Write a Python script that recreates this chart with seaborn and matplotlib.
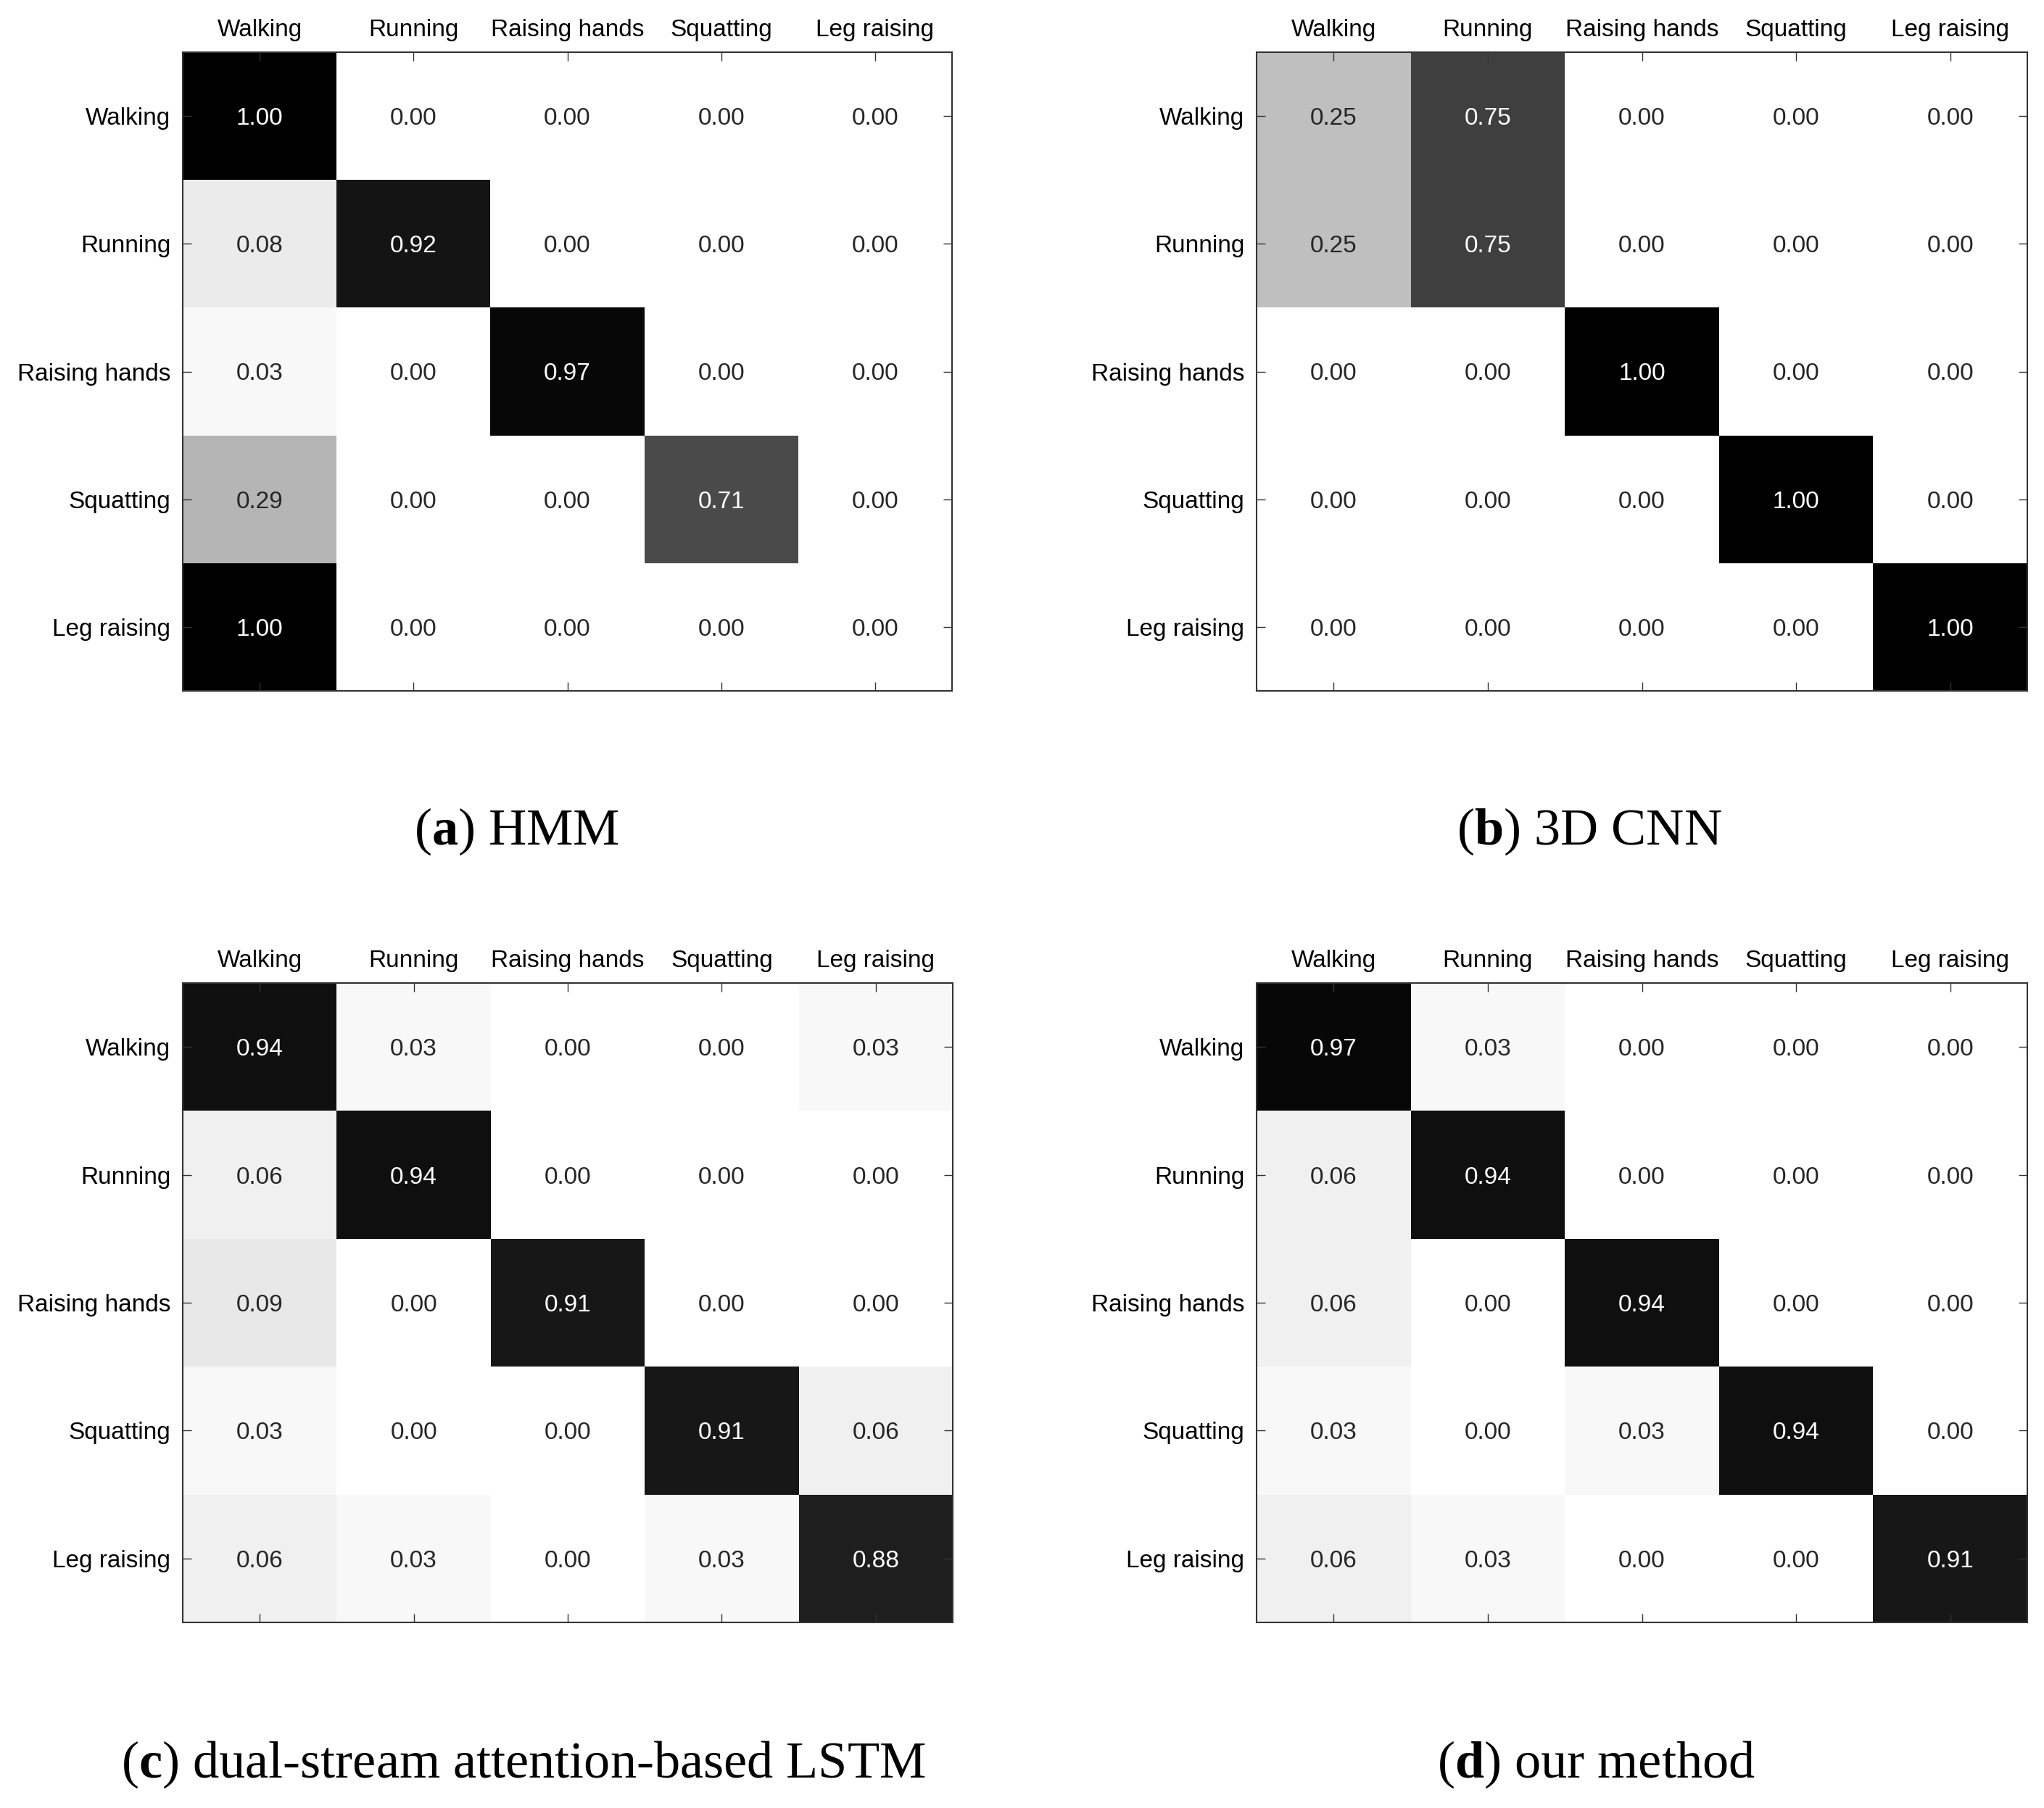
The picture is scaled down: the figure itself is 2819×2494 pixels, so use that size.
import numpy as np
import pandas as pd
import matplotlib
matplotlib.use("Agg")
import matplotlib.pyplot as plt
import seaborn as sns

# class names (rows = true, cols = predicted)
actions = ['Walking', 'Running', 'Raising hands', 'Squatting', 'Leg raising']

# confusion matrices
hmm = [[1.00, 0.00, 0.00, 0.00, 0.00],
       [0.08, 0.92, 0.00, 0.00, 0.00],
       [0.03, 0.00, 0.97, 0.00, 0.00],
       [0.29, 0.00, 0.00, 0.71, 0.00],
       [1.00, 0.00, 0.00, 0.00, 0.00]]

cnn3d = [[0.25, 0.75, 0.00, 0.00, 0.00],
         [0.25, 0.75, 0.00, 0.00, 0.00],
         [0.00, 0.00, 1.00, 0.00, 0.00],
         [0.00, 0.00, 0.00, 1.00, 0.00],
         [0.00, 0.00, 0.00, 0.00, 1.00]]

lstm = [[0.94, 0.03, 0.00, 0.00, 0.03],
        [0.06, 0.94, 0.00, 0.00, 0.00],
        [0.09, 0.00, 0.91, 0.00, 0.00],
        [0.03, 0.00, 0.00, 0.91, 0.06],
        [0.06, 0.03, 0.00, 0.03, 0.88]]

ours = [[0.97, 0.03, 0.00, 0.00, 0.00],
        [0.06, 0.94, 0.00, 0.00, 0.00],
        [0.06, 0.00, 0.94, 0.00, 0.00],
        [0.03, 0.00, 0.03, 0.94, 0.00],
        [0.06, 0.03, 0.00, 0.00, 0.91]]

letters = ['a', 'b', 'c', 'd']
methods = ['HMM', '3D CNN', 'dual-stream attention-based LSTM', 'our method']

plt.rcParams['font.family'] = ['Liberation Sans', 'DejaVu Sans']
plt.rcParams['mathtext.fontset'] = 'custom'
plt.rcParams['mathtext.rm'] = 'Liberation Serif'
plt.rcParams['mathtext.bf'] = 'Liberation Serif:bold'

W, H = 2819, 2494
fig = plt.figure(figsize=(W / 100, H / 100), dpi=100)

# axes boxes in pixels: left, top, right, bottom
boxes = [(252, 72, 1313, 953), (1733, 72, 2796, 953),
         (252, 1356, 1314, 2238), (1733, 1356, 2796, 2238)]
# caption centres in pixels
cap_pos = [(712, 1147), (2192, 1147), (722, 2434), (2201, 2434)]

for mat, letter, name, box, cp in zip([hmm, cnn3d, lstm, ours], letters, methods, boxes, cap_pos):
    l, t, r, b = box
    ax = fig.add_axes([l / W, 1 - b / H, (r - l) / W, (b - t) / H])
    df = pd.DataFrame(mat, index=actions, columns=actions)
    sns.heatmap(df, ax=ax, cmap='gray_r', vmin=0, vmax=1, cbar=False,
                annot=True, fmt='.2f', annot_kws={'fontsize': 24, 'va': 'center_baseline'},
                linewidths=0)
    for s in ax.spines.values():
        s.set_visible(True)
        s.set_color('#333333')
        s.set_linewidth(1.5)
    ax.tick_params(direction='in', top=True, bottom=True, left=True, right=True,
                   labeltop=True, labelbottom=False, length=8.5, width=1.0,
                   color='#333333', labelsize=24, pad=12)
    ax.tick_params(axis='x', pad=11)
    plt.setp(ax.get_yticklabels(), rotation=0, va='center_baseline')
    plt.setp(ax.get_xticklabels(), rotation=0)
    ax.set_xlabel('')
    ax.set_ylabel('')
    fig.text(cp[0] / W, 1 - cp[1] / H, '(' + r'$\mathbf{' + letter + '}$' + ') ' + name,
             ha='center', va='center', fontsize=52, family='Liberation Serif')

fig.savefig('out.png', dpi=100, facecolor='white')
